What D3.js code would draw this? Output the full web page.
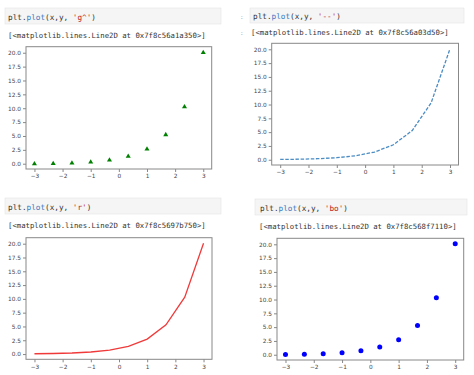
<!DOCTYPE html>
<html><head><meta charset="utf-8">
<script src="https://cdn.jsdelivr.net/npm/d3@7"></script>
<style>body{margin:0;background:#fff}svg{display:block}</style>
</head><body>
<svg id="c" width="474" height="375"></svg>
<script>
const xs = [-3, -2.333, -1.667, -1, -0.333, 0.333, 1, 1.667, 2.333, 3];
const ys = [0.050, 0.097, 0.189, 0.368, 0.717, 1.396, 2.718, 5.294, 10.312, 20.086];
const xTicks = [-3, -2, -1, 0, 1, 2, 3];
const yTicks = [0, 2.5, 5, 7.5, 10, 12.5, 15, 17.5, 20];
const fmtString = ["'g^'", "'--'", "'r'", "'bo'"];
const outputs = ["[<matplotlib.lines.Line2D at 0x7f8c56a1a350>]",
                 "[<matplotlib.lines.Line2D at 0x7f8c56a03d50>]",
                 "[<matplotlib.lines.Line2D at 0x7f8c5697b750>]",
                 "[<matplotlib.lines.Line2D at 0x7f8c568f7110>]"];

const svg = d3.select("#c");
const mono = "'DejaVu Sans Mono', 'Liberation Mono', monospace";

const panels = [
  {style:"tri", bar:[5,8,221,24], tx:8, ty:19.5, oy:38, ox:8, prompt:false, ax:[26,46.7,211.7,169]},
  {style:"dash", bar:[250,8,464,23], tx:253, ty:18.5, oy:35, ox:251, prompt:true, ax:[271.7,43.3,458.5,165]},
  {style:"line", bar:[5,198,221,214], tx:8, ty:209.5, oy:228, ox:8, prompt:false, ax:[26,237.7,212,359.3]},
  {style:"dot", bar:[255,199,467,215], tx:260, ty:210.5, oy:229, ox:259, prompt:false, ax:[277,238.3,463.7,360]}
];

panels.forEach((p,i)=>{
  const g = svg.append("g");
  g.append("rect").attr("x",p.bar[0]).attr("y",p.bar[1])
    .attr("width",p.bar[2]-p.bar[0]).attr("height",p.bar[3]-p.bar[1])
    .attr("fill","#f5f5f5").attr("stroke","#e4e4e4").attr("stroke-width",0.6);
  const t = g.append("text").attr("x",p.tx).attr("y",p.ty)
    .attr("font-family",mono).attr("font-size",7.7).attr("fill","#333");
  t.append("tspan").text("plt.");
  t.append("tspan").attr("fill","#3b78c2").text("plot");
  t.append("tspan").text("(x,y, ");
  t.append("tspan").attr("fill","#ba2121").text(fmtString[i]);
  t.append("tspan").text(")");
  g.append("text").attr("x",p.ox).attr("y",p.oy)
    .attr("font-family",mono).attr("font-size",7.3).attr("fill","#333")
    .text(outputs[i]);
  if(p.prompt){
    g.append("text").attr("x",240).attr("y",p.ty).attr("font-family",mono)
      .attr("font-size",6).attr("fill","#aaa").text(":");
    g.append("text").attr("x",240).attr("y",p.oy).attr("font-family",mono)
      .attr("font-size",6).attr("fill","#aaa").text(":");
  }

  const [x0,y0,x1,y1] = p.ax;
  const x = d3.scaleLinear().domain([-3.3,3.3]).range([x0,x1]);
  const y = d3.scaleLinear().domain([-0.952,21.088]).range([y1,y0]);

  const xa = g.append("g").attr("transform",`translate(0,${y1})`)
    .call(d3.axisBottom(x).tickValues(xTicks).tickSize(3).tickSizeOuter(0).tickFormat(d=>d<0?"\u2212"+(-d):d));
  const ya = g.append("g").attr("transform",`translate(${x0},0)`)
    .call(d3.axisLeft(y).tickValues(yTicks).tickSize(3).tickSizeOuter(0).tickFormat(d3.format(".1f")));
  [xa,ya].forEach(a=>{
    a.select(".domain").remove();
    a.selectAll(".tick line").attr("stroke","#555").attr("stroke-width",0.7);
    a.selectAll(".tick text").attr("font-family","'DejaVu Sans', sans-serif")
      .attr("font-size",5.8).attr("fill","#444");
  });
  xa.selectAll(".tick text").attr("dy","0.9em").attr("y",4);
  ya.selectAll(".tick text").attr("x",-5);

  g.append("rect").attr("x",x0).attr("y",y0).attr("width",x1-x0).attr("height",y1-y0)
    .attr("fill","none").attr("stroke","#888").attr("stroke-width",1);

  const pts = xs.map((v,k)=>[v,ys[k]]);
  const line = d3.line().x(d=>x(d[0])).y(d=>y(d[1]));
  if(p.style==="tri"){
    g.selectAll("path.m").data(pts).join("path").attr("class","m")
      .attr("d",d3.symbol(d3.symbolTriangle,11))
      .attr("transform",d=>`translate(${x(d[0])},${y(d[1])+0.4})`)
      .attr("fill","#008000");
  } else if(p.style==="dash"){
    g.append("path").attr("d",line(pts)).attr("fill","none")
      .attr("stroke","#4a8cc4").attr("stroke-width",1.3).attr("stroke-dasharray","3.5,1.6");
  } else if(p.style==="line"){
    g.append("path").attr("d",line(pts)).attr("fill","none")
      .attr("stroke","#f03a3a").attr("stroke-width",1.3);
  } else {
    g.selectAll("circle.m").data(pts).join("circle").attr("class","m")
      .attr("cx",d=>x(d[0])).attr("cy",d=>y(d[1])).attr("r",2.5)
      .attr("fill","#0000ff");
  }
});
</script>
</body></html>
